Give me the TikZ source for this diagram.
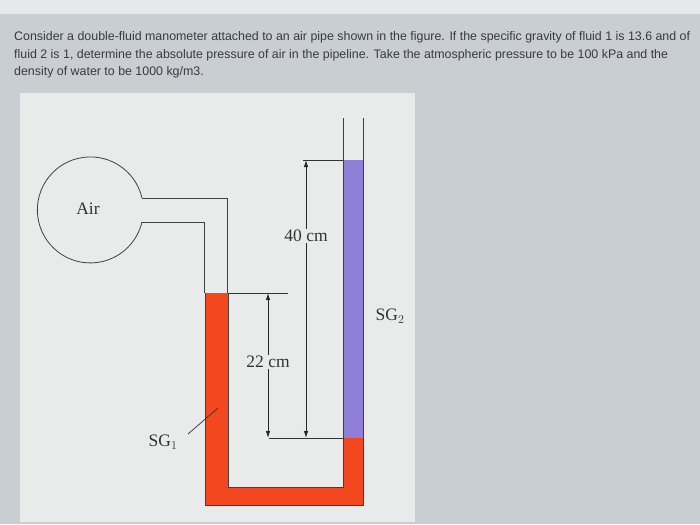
\documentclass[tikz,border=0pt]{standalone}
\usepackage{fontspec}
\usetikzlibrary{arrows.meta}
\setmainfont{Liberation Serif}
\newfontfamily\qfont{Liberation Sans}
\definecolor{bg}{HTML}{C9CED3}
\definecolor{topbg}{HTML}{E6E8EA}
\definecolor{panel}{HTML}{E9EAEA}
\definecolor{redf}{HTML}{F2471F}
\definecolor{purf}{HTML}{8F7FD6}
\definecolor{txt}{HTML}{3A3A3A}
\begin{document}
\begin{tikzpicture}[x=1pt,y=-1pt,
  wall/.style={draw=black!75,line width=0.8pt},
  lvl/.style={draw=black!80,line width=0.8pt},
  dim/.style={draw=black!85,line width=0.9pt,-{Latex[length=7pt,width=4.5pt]}},
  lab/.style={font=\fontsize{17.5}{17.5}\selectfont,text=black!80,fill=panel,inner sep=1pt}]
\useasboundingbox (0,0) rectangle (700,524);
\fill[bg] (0,0) rectangle (700,524);
\fill[topbg] (0,0) rectangle (700,14);
\node[anchor=west,text=txt,align=left,font=\qfont\fontsize{12.4}{17.5}\selectfont,inner sep=0] (q) at (14,55)
 {Consider a double-fluid manometer attached to an air pipe shown in the figure. If the specific gravity of fluid 1 is 13.6 and of\\
 fluid 2 is 1, determine the absolute pressure of air in the pipeline. Take the atmospheric pressure to be 100 kPa and the\\
 density of water to be 1000 kg/m3.};
\fill[panel] (20,93) rectangle (415,522);
% fluids
\fill[redf] (205,293) -- (228,293) -- (228,487) -- (343,487) -- (343,438) -- (363,438) -- (363,505) -- (205,505) -- cycle;
\fill[purf] (343,160) rectangle (363,438);
% circle and pipe
\draw[wall] (142,198) arc[start angle=-13,end angle=-347,radius=53];
\draw[wall] (142,198) -- (227,198) -- (227,293) (142,222) -- (204,222) -- (204,293);
\draw[wall] (205,293) -- (205,505) -- (363,505) -- (363,118);
\draw[wall] (228,293) -- (228,487) -- (343,487) -- (343,118);
% levels
\draw[lvl] (228,293) -- (288,293);
\draw[lvl] (303,160) -- (343,160);
\draw[lvl] (269,438) -- (343,438);
\node[lab] (d22) at (268,362) {22 cm};
\node[lab] (d40) at (306,236) {40 cm};
\coordinate (t22) at (268,293); \coordinate (b22) at (268,438);
\coordinate (t40) at (306,160); \coordinate (b40) at (306,438);
\draw[dim] (d22) -- (t22); \draw[dim] (d22) -- (b22);
\draw[dim] (d40) -- (t40); \draw[dim] (d40) -- (b40);
\node[font=\fontsize{17.5}{17.5}\selectfont,text=black!80] (air) at (88,209) {Air};
\node[font=\fontsize{17.5}{17.5}\selectfont,text=black!80] (sg2) at (390,316) {SG$_2$};
\node[font=\fontsize{17.5}{17.5}\selectfont,text=black!80] (sg1) at (163,442) {SG$_1$};
\coordinate (p1) at (218,408);
\draw[black!80,line width=0.7pt] (188,434) -- (p1);
\end{tikzpicture}
\end{document}
